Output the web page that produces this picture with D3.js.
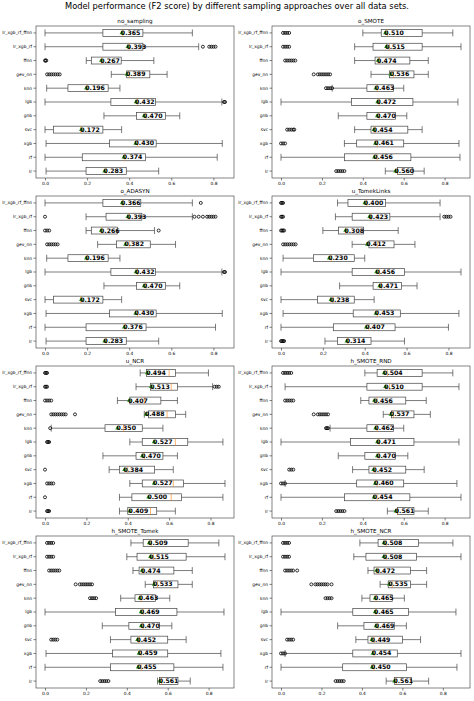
<!DOCTYPE html>
<html><head><meta charset="utf-8">
<script src="https://cdn.jsdelivr.net/npm/d3@7"></script>
<style>body{margin:0;background:#fff}</style>
</head><body><svg id="c" width="474" height="701"></svg>
<script>
const title = "Model performance (F2 score) by different sampling approaches over all data sets.";
const categories = ["lr_xgb_rf_ffnn","lr_xgb_rf","ffnn","gev_nn","knn","lgb","gnb","svc","xgb","rf","lr"];
const panelNames = ["no_sampling","o_SMOTE","o_ADASYN","u_TomekLinks","u_NCR","h_SMOTE_RND","h_SMOTE_Tomek","h_SMOTE_NCR"];
const ticks = [0.0,0.2,0.4,0.6,0.8];
// each row: [whiskerLow, q1, median, q3, whiskerHigh, mean, outliers]
const no_sampling = [
 [0,.275,.37,.465,.70,.365,[]],
 [0,.275,.40,.465,.73,.393,[.75,.78,.79,.80,.81]],
 [.196,.22,.27,.362,.517,.267,[0,.003,.006]],
 [.315,.388,.40,.498,.58,.389,[.01,.02,.03,.04,.05,.06,.07]],
 [.008,.109,.20,.30,.356,.196,[]],
 [0,.313,.44,.525,.84,.432,[.85,.855]],
 [.28,.435,.48,.573,.64,.470,[]],
 [0,.04,.17,.275,.364,.172,[]],
 [.005,.307,.44,.528,.842,.430,[]],
 [0,.177,.38,.478,.818,.374,[]],
 [.005,.195,.29,.386,.54,.283,[]]];
const o_SMOTE = [
 [.40,.49,.52,.69,.84,.510,[.01,.02,.03,.04]],
 [.36,.45,.53,.69,.88,.515,[.01,.02,.03,.04]],
 [.36,.46,.48,.63,.72,.474,[.02,.03,.04,.05,.06,.07]],
 [.44,.53,.55,.65,.72,.536,[.16,.18,.19,.20,.21,.22,.23,.24]],
 [.25,.42,.47,.55,.60,.463,[.22,.23,.24,.25]],
 [0,.345,.48,.645,.865,.472,[]],
 [.28,.42,.48,.56,.615,.470,[]],
 [.36,.44,.46,.62,.69,.454,[.03,.04,.05,.06,.065]],
 [.31,.37,.47,.60,.87,.461,[0,.01,.02]],
 [0,.31,.47,.635,.875,.456,[]],
 [.51,.57,.57,.645,.70,.560,[.27,.28,.29,.30,.31]]];
const o_ADASYN = [
 [0,.275,.37,.455,.70,.366,[.74]],
 [.195,.29,.40,.46,.70,.393,[0,.71,.73,.75,.77,.78,.79,.80,.81]],
 [.195,.22,.27,.345,.52,.266,[0,.01,.02,.54]],
 [.25,.34,.40,.50,.62,.382,[.01,.02,.03,.04,.05,.06]],
 [.008,.109,.20,.30,.356,.196,[]],
 [0,.313,.44,.525,.84,.432,[.85,.855]],
 [.28,.435,.48,.573,.64,.470,[]],
 [0,.04,.17,.275,.364,.172,[]],
 [.005,.307,.44,.528,.842,.430,[]],
 [0,.195,.38,.48,.81,.376,[]],
 [.005,.195,.29,.386,.54,.283,[]]];
const u_TomekLinks = [
 [.27,.32,.41,.50,.76,.400,[0,.005,.01]],
 [.26,.34,.43,.52,.76,.423,[0,.005,.01,.78,.79,.80,.81]],
 [.20,.275,.31,.395,.56,.308,[0,.005,.01,.015]],
 [.34,.42,.46,.54,.64,.412,[.01,.02,.03,.04,.05,.06,.07]],
 [.01,.155,.24,.35,.40,.230,[]],
 [0,.34,.47,.59,.86,.456,[]],
 [.28,.44,.48,.575,.65,.471,[]],
 [0,.175,.25,.35,.445,.238,[]],
 [.01,.345,.46,.57,.85,.453,[]],
 [0,.25,.42,.545,.80,.407,[]],
 [.21,.27,.32,.43,.59,.314,[0,.005,.01,.015]]];
const u_NCR = [
 [.46,.49,.60,.63,.79,.494,[0,.005,.01]],
 [.44,.51,.61,.64,.81,.513,[0,.005,.01,.82,.83,.84]],
 [.35,.41,.48,.56,.64,.407,[0,.01,.02,.03]],
 [.48,.50,.59,.63,.68,.488,[.03,.04,.05,.06,.07,.08,.09,.10,.145]],
 [.03,.29,.38,.47,.57,.350,[.025]],
 [.41,.47,.63,.69,.86,.527,[.01,.015,.02]],
 [.28,.44,.48,.57,.64,.470,[]],
 [.31,.36,.40,.53,.62,.384,[0]],
 [.41,.47,.62,.67,.87,.527,[.01,.02,.03,.04]],
 [.36,.42,.61,.66,.86,.500,[0]],
 [.36,.40,.51,.54,.63,.409,[.01,.015,.02]]];
const h_SMOTE_RND = [
 [.41,.47,.52,.69,.84,.504,[.01,.02,.03,.04,.05]],
 [.02,.42,.53,.69,.87,.510,[]],
 [.39,.43,.47,.61,.71,.456,[.02,.03,.04,.05,.06]],
 [.50,.54,.55,.65,.73,.537,[.16,.18,.19,.20,.21,.22,.23]],
 [.24,.42,.47,.55,.60,.462,[.22,.225,.23]],
 [0,.34,.48,.65,.87,.471,[]],
 [.28,.41,.48,.56,.62,.470,[]],
 [.35,.43,.46,.61,.70,.452,[.04,.05,.06]],
 [.02,.37,.47,.60,.86,.460,[0,.01,.02]],
 [0,.31,.47,.63,.88,.454,[]],
 [.52,.57,.57,.65,.72,.561,[.27,.28,.29,.30,.31]]];
const h_SMOTE_Tomek = [
 [.42,.48,.52,.70,.85,.509,[.01,.02,.03,.04]],
 [.40,.45,.53,.69,.88,.515,[.01,.02,.03,.04]],
 [.43,.46,.48,.63,.72,.474,[.02,.03,.04,.05,.06,.07]],
 [.49,.53,.55,.65,.72,.533,[.15,.17,.18,.19,.20,.21,.22,.23]],
 [.37,.44,.47,.54,.61,.463,[.22,.23,.24,.25]],
 [0,.345,.48,.645,.875,.469,[]],
 [.28,.41,.48,.56,.62,.470,[]],
 [.32,.42,.46,.60,.69,.452,[.03,.04,.05,.06]],
 [.005,.33,.47,.60,.86,.459,[]],
 [0,.32,.47,.63,.87,.455,[]],
 [.55,.56,.57,.65,.71,.561,[.27,.28,.29,.30,.31]]];
const h_SMOTE_NCR = [
 [.39,.48,.52,.68,.85,.508,[.01,.02,.03,.04]],
 [.36,.42,.52,.67,.89,.508,[.01,.02,.03,.04]],
 [.43,.46,.48,.64,.72,.472,[.02,.03,.04,.05,.06,.08]],
 [.49,.53,.55,.64,.72,.535,[.15,.17,.18,.19,.20,.21,.22,.23,.25]],
 [.40,.44,.47,.55,.61,.465,[.22,.23,.24,.25]],
 [0,.355,.47,.63,.865,.465,[]],
 [.28,.41,.48,.56,.62,.469,[]],
 [.37,.43,.46,.60,.69,.449,[.03,.04,.05,.06]],
 [.02,.355,.46,.575,.89,.454,[0,.01,.02]],
 [0,.305,.46,.62,.87,.450,[]],
 [.52,.56,.57,.645,.73,.561,[.27,.28,.29,.30,.31]]];
const panelData = [no_sampling,o_SMOTE,o_ADASYN,u_TomekLinks,u_NCR,h_SMOTE_RND,h_SMOTE_Tomek,h_SMOTE_NCR];

const svg = d3.select("#c");
const FONT = "DejaVu Sans, sans-serif";
svg.append("text").attr("x",237).attr("y",9).attr("text-anchor","middle")
  .attr("font-family",FONT).attr("font-size",8.3).text(title);

const lefts=[36,272], W=198, tops=[26,196,366,536], H=152;
panelData.forEach((rows,pi)=>{
  const x0=lefts[pi%2], y0=tops[Math.floor(pi/2)];
  const g=svg.append("g").attr("transform",`translate(${x0},${y0})`);
  let lo=d3.min(rows,r=>Math.min(r[0],...r[6])), hi=d3.max(rows,r=>Math.max(r[4],...r[6]));
  const m=(hi-lo)*0.05;
  const x=d3.scaleLinear().domain([lo-m,hi+m]).range([0,W]);
  const y=d3.scaleBand().domain(categories).range([0,H]);
  const bh=y.bandwidth()*0.5;
  g.append("text").attr("x",W/2).attr("y",-3).attr("text-anchor","middle")
    .attr("font-family",FONT).attr("font-size",5.6).text(panelNames[pi]);
  const xa=g.append("g").attr("transform",`translate(0,${H})`)
    .call(d3.axisBottom(x).tickValues(ticks).tickFormat(d3.format(".1f")).tickSize(2.5).tickPadding(1.5));
  const ya=g.append("g").call(d3.axisLeft(y).tickSize(2.5).tickPadding(1.5));
  [xa,ya].forEach(a=>{a.select(".domain").remove();a.selectAll("text").attr("font-family",FONT).attr("font-size",4.4).attr("fill","#000");a.selectAll("line").attr("stroke","#000").attr("stroke-width",0.5);});
  rows.forEach((r,i)=>{
    const cy=y(categories[i])+y.bandwidth()/2;
    const [wl,q1,md,q3,wh,mn,out]=r;
    const s="#444";
    g.append("line").attr("x1",x(wl)).attr("x2",x(q1)).attr("y1",cy).attr("y2",cy).attr("stroke",s).attr("stroke-width",0.7);
    g.append("line").attr("x1",x(q3)).attr("x2",x(wh)).attr("y1",cy).attr("y2",cy).attr("stroke",s).attr("stroke-width",0.7);
    [wl,wh].forEach(v=>g.append("line").attr("x1",x(v)).attr("x2",x(v)).attr("y1",cy-bh/2).attr("y2",cy+bh/2).attr("stroke",s).attr("stroke-width",0.7));
    g.append("rect").attr("x",x(q1)).attr("y",cy-bh/2).attr("width",x(q3)-x(q1)).attr("height",bh).attr("fill","none").attr("stroke",s).attr("stroke-width",0.7);
    g.append("line").attr("x1",x(md)).attr("x2",x(md)).attr("y1",cy-bh/2).attr("y2",cy+bh/2).attr("stroke","#ff7f0e").attr("stroke-width",0.6);
    out.forEach(v=>g.append("circle").attr("cx",x(v)).attr("cy",cy).attr("r",1.5).attr("fill","none").attr("stroke","#000").attr("stroke-width",0.8));
    g.append("path").attr("d",d3.symbol(d3.symbolTriangle,9)()).attr("transform",`translate(${x(mn)},${cy})`).attr("fill","#2ca02c");
    g.append("text").attr("x",x(mn)-1).attr("y",cy+2).attr("font-family",FONT).attr("font-size",6.2).attr("font-weight","bold").text(d3.format(".3f")(mn));
  });
  g.append("rect").attr("width",W).attr("height",H).attr("fill","none").attr("stroke","#333").attr("stroke-width",0.6);
});
</script></body></html>
